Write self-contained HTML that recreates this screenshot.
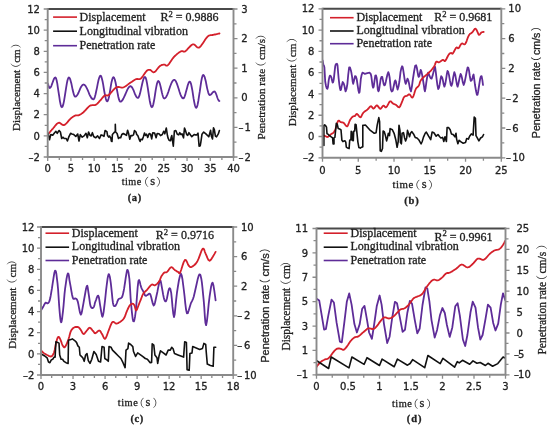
<!DOCTYPE html>
<html><head><meta charset="utf-8"><style>
html,body{margin:0;padding:0;background:#fff;width:550px;height:429px;overflow:hidden}
svg{display:block}
text{stroke:#222;stroke-width:0.3px}
</style></head><body>
<svg width="550" height="429" viewBox="0 0 550 429">
<rect width="550" height="429" fill="#fff"/>
<path d="M47.70 157.00V160.00M59.31 157.00V160.00M70.93 157.00V160.00M82.54 157.00V160.00M94.15 157.00V160.00M105.76 157.00V160.00M117.38 157.00V160.00M128.99 157.00V160.00M140.60 157.00V160.00M152.21 157.00V160.00M163.82 157.00V160.00M175.44 157.00V160.00M187.05 157.00V160.00M198.66 157.00V160.00M210.28 157.00V160.00M221.89 157.00V160.00M233.50 157.00V160.00M47.70 157.00H44.70M47.70 146.43H44.70M47.70 135.86H44.70M47.70 125.29H44.70M47.70 114.71H44.70M47.70 104.14H44.70M47.70 93.57H44.70M47.70 83.00H44.70M47.70 72.43H44.70M47.70 61.86H44.70M47.70 51.29H44.70M47.70 40.71H44.70M47.70 30.14H44.70M47.70 19.57H44.70M47.70 9.00H44.70M233.50 157.00H236.50M233.50 142.20H236.50M233.50 127.40H236.50M233.50 112.60H236.50M233.50 97.80H236.50M233.50 83.00H236.50M233.50 68.20H236.50M233.50 53.40H236.50M233.50 38.60H236.50M233.50 23.80H236.50M233.50 9.00H236.50M47.70 157.00V161.00M70.93 157.00V161.00M94.15 157.00V161.00M117.38 157.00V161.00M140.60 157.00V161.00M163.82 157.00V161.00M187.05 157.00V161.00M210.28 157.00V161.00M233.50 157.00V161.00M47.70 157.00H43.70M47.70 135.86H43.70M47.70 114.71H43.70M47.70 93.57H43.70M47.70 72.43H43.70M47.70 51.29H43.70M47.70 30.14H43.70M47.70 9.00H43.70M233.50 157.00H237.50M233.50 127.40H237.50M233.50 97.80H237.50M233.50 68.20H237.50M233.50 38.60H237.50M233.50 9.00H237.50" stroke="#8a8a8a" stroke-width="1.3" fill="none"/>
<clipPath id="ca"><rect x="47.7" y="9.0" width="185.8" height="148.0"/></clipPath>
<path d="M47.3 83.3 L47.5 83.4 L47.8 83.7 L48.0 84.3 L48.3 84.9 L48.5 85.6 L48.7 86.4 L49.0 87.0 L49.2 87.6 L49.5 87.9 L49.7 88.0 L50.3 87.7 L50.8 87.0 L51.4 85.8 L51.9 84.4 L52.5 82.8 L53.1 81.1 L53.6 79.7 L54.2 78.5 L54.7 77.8 L55.3 77.5 L56.0 78.2 L56.6 80.3 L57.3 83.6 L57.9 87.8 L58.6 92.3 L59.3 96.9 L59.9 101.1 L60.6 104.4 L61.2 106.5 L61.9 107.2 L62.6 106.5 L63.3 104.4 L64.0 101.1 L64.7 96.9 L65.4 92.4 L66.1 87.8 L66.8 83.6 L67.5 80.3 L68.2 78.2 L68.9 77.5 L69.5 78.0 L70.2 79.3 L70.8 81.5 L71.5 84.1 L72.1 87.1 L72.7 90.1 L73.4 92.7 L74.0 94.9 L74.7 96.2 L75.3 96.7 L76.1 96.4 L76.9 95.5 L77.8 94.2 L78.6 92.5 L79.4 90.6 L80.2 88.7 L81.0 87.0 L81.9 85.7 L82.7 84.8 L83.5 84.5 L84.5 84.9 L85.5 85.9 L86.5 87.6 L87.5 89.6 L88.5 92.0 L89.4 94.3 L90.4 96.3 L91.4 98.0 L92.4 99.0 L93.4 99.4 L94.1 98.8 L94.8 97.1 L95.5 94.5 L96.2 91.2 L97.0 87.6 L97.7 83.9 L98.4 80.6 L99.1 78.0 L99.8 76.3 L100.5 75.7 L101.2 76.3 L101.8 78.2 L102.5 81.0 L103.2 84.6 L103.8 88.5 L104.5 92.5 L105.2 96.1 L105.9 98.9 L106.5 100.8 L107.2 101.4 L107.8 100.8 L108.4 99.1 L109.1 96.4 L109.7 93.0 L110.3 89.3 L110.9 85.6 L111.5 82.2 L112.2 79.5 L112.8 77.8 L113.4 77.2 L114.1 77.8 L114.8 79.5 L115.5 82.2 L116.2 85.7 L116.9 89.5 L117.6 93.2 L118.3 96.7 L119.0 99.4 L119.7 101.1 L120.4 101.7 L121.4 101.3 L122.4 100.2 L123.4 98.5 L124.4 96.3 L125.5 94.0 L126.5 91.6 L127.5 89.4 L128.5 87.7 L129.5 86.6 L130.5 86.2 L131.2 86.5 L132.0 87.3 L132.7 88.6 L133.5 90.2 L134.2 92.0 L134.9 93.9 L135.7 95.5 L136.4 96.8 L137.2 97.6 L137.9 97.9 L138.6 97.4 L139.3 95.9 L140.0 93.6 L140.7 90.6 L141.4 87.4 L142.1 84.2 L142.8 81.2 L143.5 78.9 L144.2 77.4 L144.9 76.9 L145.6 77.6 L146.3 79.8 L147.0 83.1 L147.7 87.4 L148.4 92.0 L149.1 96.7 L149.8 101.0 L150.5 104.3 L151.2 106.5 L151.9 107.2 L152.5 106.6 L153.2 104.7 L153.8 101.8 L154.5 98.1 L155.1 94.1 L155.7 90.1 L156.4 86.4 L157.0 83.5 L157.7 81.6 L158.3 81.0 L158.9 81.4 L159.5 82.7 L160.1 84.6 L160.7 87.0 L161.3 89.8 L161.9 92.5 L162.5 94.9 L163.1 96.8 L163.7 98.1 L164.3 98.5 L165.3 98.0 L166.3 96.7 L167.3 94.6 L168.3 92.0 L169.2 89.2 L170.2 86.3 L171.2 83.7 L172.2 81.6 L173.2 80.3 L174.2 79.8 L175.1 80.3 L176.0 81.6 L176.9 83.6 L177.8 86.2 L178.7 89.1 L179.6 92.0 L180.5 94.6 L181.4 96.6 L182.3 97.9 L183.2 98.4 L183.9 98.0 L184.5 96.8 L185.2 94.9 L185.8 92.6 L186.5 90.0 L187.2 87.4 L187.8 85.1 L188.5 83.2 L189.1 82.0 L189.8 81.6 L190.4 82.2 L191.1 84.1 L191.7 87.0 L192.4 90.7 L193.0 94.7 L193.6 98.7 L194.3 102.4 L194.9 105.3 L195.6 107.2 L196.2 107.8 L196.9 107.0 L197.6 104.7 L198.3 101.0 L199.0 96.4 L199.8 91.4 L200.5 86.3 L201.2 81.7 L201.9 78.0 L202.6 75.7 L203.3 74.9 L203.9 75.4 L204.6 76.8 L205.2 79.0 L205.9 81.8 L206.5 85.0 L207.1 88.1 L207.8 90.9 L208.4 93.1 L209.1 94.5 L209.7 95.0 L210.2 94.9 L210.6 94.7 L211.1 94.3 L211.6 93.8 L212.1 93.2 L212.5 92.7 L213.0 92.2 L213.5 91.8 L213.9 91.6 L214.4 91.5 L214.9 91.7 L215.4 92.4 L215.9 93.5 L216.4 94.8 L216.9 96.2 L217.4 97.7 L217.9 99.0 L218.4 100.1 L218.9 100.8 L219.4 101.0" stroke="#5e2c98" stroke-width="1.8" fill="none" stroke-linejoin="round" stroke-linecap="round" clip-path="url(#ca)"/>
<path d="M48.2 134.0 L48.5 133.6 L49.0 133.1 L49.5 132.5 L50.1 131.8 L50.7 131.0 L51.4 130.3 L52.0 129.5 L52.7 128.8 L53.4 128.0 L54.1 127.2 L54.8 126.2 L55.5 125.3 L56.3 124.5 L57.0 123.7 L57.8 123.2 L58.5 122.8 L59.2 122.7 L59.9 123.0 L60.6 123.4 L61.3 123.9 L62.0 124.4 L62.7 124.9 L63.5 125.1 L64.2 125.0 L65.0 124.6 L65.8 123.9 L66.6 123.1 L67.5 122.1 L68.3 121.1 L69.1 120.2 L69.9 119.3 L70.6 118.6 L71.3 118.0 L71.9 117.6 L72.5 117.1 L73.0 116.7 L73.5 116.4 L74.1 116.1 L74.6 115.8 L75.1 115.6 L75.6 115.4 L76.1 115.4 L76.6 115.3 L77.0 115.3 L77.5 115.4 L78.0 115.3 L78.5 115.3 L79.0 115.1 L79.5 114.9 L80.0 114.6 L80.6 114.3 L81.1 114.0 L81.6 113.6 L82.2 113.2 L82.8 112.7 L83.5 112.2 L84.2 111.5 L85.0 110.7 L85.8 109.8 L86.6 108.9 L87.5 108.0 L88.3 107.1 L89.1 106.4 L89.9 105.8 L90.7 105.4 L91.4 105.3 L92.1 105.2 L92.9 105.2 L93.6 105.2 L94.3 105.2 L94.9 105.1 L95.6 104.9 L96.2 104.5 L96.8 104.1 L97.4 103.6 L97.9 103.0 L98.5 102.4 L99.0 101.8 L99.5 101.2 L100.1 100.6 L100.7 100.0 L101.3 99.3 L101.8 98.5 L102.4 97.8 L103.0 97.1 L103.6 96.5 L104.2 95.9 L104.7 95.5 L105.2 95.3 L105.7 95.2 L106.1 95.3 L106.5 95.4 L107.0 95.5 L107.5 95.5 L108.0 95.4 L108.7 95.0 L109.5 94.3 L110.4 93.4 L111.3 92.3 L112.3 91.2 L113.3 90.0 L114.4 88.9 L115.4 88.0 L116.3 87.4 L117.2 87.1 L118.1 87.0 L119.0 87.0 L119.8 87.2 L120.7 87.4 L121.6 87.6 L122.4 87.6 L123.3 87.4 L124.2 87.0 L125.1 86.5 L126.0 85.9 L126.9 85.3 L127.8 84.6 L128.6 83.9 L129.5 83.3 L130.3 82.7 L131.1 82.2 L131.9 81.7 L132.6 81.2 L133.3 80.7 L134.1 80.2 L134.8 79.8 L135.4 79.5 L136.1 79.2 L136.7 79.0 L137.3 79.0 L137.9 79.1 L138.4 79.2 L139.0 79.2 L139.6 79.2 L140.2 79.0 L140.8 78.6 L141.5 77.9 L142.2 77.0 L143.0 76.0 L143.8 74.8 L144.5 73.7 L145.3 72.6 L146.0 71.7 L146.6 71.0 L147.1 70.5 L147.6 70.2 L148.1 70.0 L148.5 69.8 L148.8 69.8 L149.2 69.8 L149.6 69.8 L150.1 69.9 L150.6 70.1 L151.0 70.4 L151.5 70.9 L152.0 71.4 L152.5 71.8 L153.0 72.1 L153.6 72.3 L154.2 72.2 L154.9 71.8 L155.6 71.1 L156.3 70.3 L157.1 69.3 L157.9 68.3 L158.6 67.4 L159.3 66.6 L160.0 66.0 L160.6 65.6 L161.2 65.3 L161.7 65.0 L162.2 64.9 L162.7 64.8 L163.2 64.7 L163.7 64.6 L164.2 64.6 L164.7 64.6 L165.1 64.8 L165.4 65.1 L165.8 65.4 L166.2 65.6 L166.6 65.7 L167.1 65.6 L167.7 65.3 L168.3 64.7 L169.1 63.8 L169.8 62.7 L170.6 61.5 L171.5 60.2 L172.3 59.0 L173.2 57.9 L174.0 56.9 L174.9 56.0 L175.8 55.2 L176.7 54.3 L177.6 53.6 L178.5 52.9 L179.4 52.2 L180.3 51.7 L181.0 51.3 L181.6 51.1 L182.2 51.1 L182.6 51.2 L183.1 51.4 L183.5 51.6 L184.0 51.7 L184.5 51.6 L185.2 51.3 L186.0 50.7 L186.9 49.8 L187.9 48.7 L188.9 47.6 L190.0 46.5 L191.0 45.5 L192.0 44.7 L192.9 44.3 L193.7 44.3 L194.5 44.7 L195.3 45.4 L196.0 46.1 L196.7 46.9 L197.5 47.5 L198.3 47.7 L199.2 47.5 L200.2 46.7 L201.2 45.6 L202.3 44.0 L203.4 42.4 L204.6 40.6 L205.6 39.0 L206.7 37.6 L207.6 36.6 L208.4 35.9 L209.2 35.5 L209.9 35.3 L210.5 35.2 L211.2 35.1 L211.8 35.1 L212.5 35.0 L213.2 34.9 L214.0 34.7 L214.9 34.5 L215.8 34.3 L216.7 34.1 L217.6 33.9 L218.4 33.7 L219.0 33.6 L219.5 33.5" stroke="#d4202b" stroke-width="1.8" fill="none" stroke-linejoin="round" stroke-linecap="round" clip-path="url(#ca)"/>
<path d="M48.2 133.3 L49.5 139.7 L50.8 134.6 L52.7 135.3 L54.6 132.7 L55.9 131.4 L57.2 133.3 L59.1 130.5 L60.4 132.0 L61.7 138.5 L63.0 137.2 L64.2 138.5 L66.2 138.5 L67.4 141.0 L68.7 137.2 L70.6 133.3 L71.9 134.0 L73.8 134.6 L75.8 136.5 L77.7 134.0 L79.0 141.0 L80.3 134.6 L82.2 137.2 L84.1 135.9 L86.0 133.3 L87.3 137.8 L88.6 132.0 L89.9 135.3 L91.2 135.9 L92.4 132.7 L93.7 136.5 L95.6 137.8 L97.6 135.9 L99.5 138.5 L101.1 134.9 L102.9 135.6 L104.0 136.4 L105.1 130.5 L106.9 131.6 L107.6 135.6 L108.7 137.1 L109.5 136.0 L110.9 138.2 L111.3 141.1 L112.0 141.5 L112.4 134.5 L114.2 132.4 L115.3 131.6 L115.3 124.4 L115.6 132.0 L117.1 133.5 L118.5 138.5 L119.6 137.5 L120.7 137.8 L121.8 134.5 L123.3 133.5 L125.1 134.5 L126.5 135.3 L127.6 130.2 L128.7 133.8 L129.8 139.3 L130.9 135.6 L132.4 135.6 L133.5 134.9 L134.5 130.5 L136.0 132.0 L136.7 134.5 L137.8 135.6 L139.4 140.0 L140.1 141.5 L140.8 139.3 L142.3 139.6 L143.4 136.7 L144.5 133.1 L145.5 135.3 L146.6 134.2 L147.7 137.5 L149.2 133.5 L150.6 134.2 L151.7 138.9 L152.8 132.7 L154.6 133.1 L156.1 137.8 L157.2 133.5 L159.0 133.8 L160.5 135.6 L162.3 134.5 L163.7 131.3 L164.8 133.8 L166.3 128.0 L167.4 135.3 L168.1 138.2 L169.2 140.4 L170.6 140.7 L171.1 137.5 L171.8 135.6 L173.3 146.2 L174.4 130.9 L175.8 130.5 L177.3 134.2 L178.7 134.9 L179.8 132.7 L180.9 134.5 L182.0 133.8 L183.5 137.8 L184.5 128.0 L185.6 130.9 L186.7 134.5 L187.8 135.3 L188.9 132.7 L190.7 135.3 L191.8 136.7 L192.9 135.6 L194.4 134.5 L195.5 134.9 L196.9 134.9 L198.0 133.1 L199.1 146.2 L200.2 145.8 L200.9 141.8 L202.0 134.2 L203.7 132.1 L205.9 133.9 L208.8 136.8 L210.6 130.3 L211.4 136.1 L212.5 139.0 L213.5 127.7 L214.3 129.5 L215.4 136.1 L216.5 136.8 L218.3 133.9 L219.4 130.6" stroke="#111111" stroke-width="1.6" fill="none" stroke-linejoin="round" stroke-linecap="round" clip-path="url(#ca)"/>
<path d="M47.70 9.00H233.50" stroke="#4a4a4a" stroke-width="1.9" fill="none"/>
<path d="M47.70 8.00V157.90M46.70 157.00H234.50M233.50 8.00V157.90" stroke="#8a8a8a" stroke-width="1.9" fill="none"/>
<g font-family="DejaVu Sans, sans-serif" font-size="10" fill="#222222"><text x="39.90" y="160.65" text-anchor="end">–2</text><text x="39.90" y="139.51" text-anchor="end">0</text><text x="39.90" y="118.36" text-anchor="end">2</text><text x="39.90" y="97.22" text-anchor="end">4</text><text x="39.90" y="76.08" text-anchor="end">6</text><text x="39.90" y="54.94" text-anchor="end">8</text><text x="39.90" y="33.79" text-anchor="end">10</text><text x="39.90" y="12.65" text-anchor="end">12</text><text x="238.50" y="160.65">–</text><text x="244.60" y="160.65">2</text><text x="238.50" y="131.05">–</text><text x="244.60" y="131.05">1</text><text x="241.30" y="101.45">0</text><text x="241.30" y="71.85">1</text><text x="241.30" y="42.25">2</text><text x="241.30" y="12.65">3</text><text x="47.70" y="172.00" text-anchor="middle">0</text><text x="70.93" y="172.00" text-anchor="middle">5</text><text x="94.15" y="172.00" text-anchor="middle">10</text><text x="117.38" y="172.00" text-anchor="middle">15</text><text x="140.60" y="172.00" text-anchor="middle">20</text><text x="163.82" y="172.00" text-anchor="middle">25</text><text x="187.05" y="172.00" text-anchor="middle">30</text><text x="210.28" y="172.00" text-anchor="middle">35</text><text x="233.50" y="172.00" text-anchor="middle">40</text></g>
<path d="M53.1 17.10H77" stroke="#d4202b" stroke-width="1.6"/>
<text x="79.6" y="20.70" font-family="Liberation Serif, serif" font-size="12" fill="#222222">Displacement</text>
<path d="M53.1 31.20H77" stroke="#111111" stroke-width="1.6"/>
<text x="79.6" y="34.50" font-family="Liberation Serif, serif" font-size="12" fill="#222222">Longitudinal vibration</text>
<path d="M53.1 45.70H77" stroke="#5e2c98" stroke-width="1.6"/>
<text x="79.6" y="49.00" font-family="Liberation Serif, serif" font-size="12" fill="#222222">Penetration rate</text>
<text x="160.4" y="21.4" font-family="Liberation Serif, serif" font-size="12" fill="#222222">R<tspan dy="-4.6" font-size="8.6">2</tspan><tspan dy="4.6"> = 0.9886</tspan></text>
<text transform="translate(20.00 130.90) rotate(-90)" y="0" fill="#222222"><tspan x="0.00" font-family="Liberation Serif, serif" font-size="11.1">Displacement</tspan><tspan x="56.91" font-family="Noto Serif CJK SC, serif" font-size="11.1" stroke="none">（</tspan><tspan x="68.10" font-family="Liberation Serif, serif" font-size="11.1">cm</tspan><tspan x="82.30" font-family="Noto Serif CJK SC, serif" font-size="11.1" stroke="none">）</tspan></text>
<text transform="translate(264.70 139.60) rotate(-90)" y="0" fill="#222222"><tspan x="0.00" font-family="Liberation Serif, serif" font-size="11.23">Penetration rate</tspan><tspan x="66.93" font-family="Noto Serif CJK SC, serif" font-size="11.23" stroke="none">（</tspan><tspan x="79.60" font-family="Liberation Serif, serif" font-size="11.23">cm/s</tspan><tspan x="99.87" font-family="Noto Serif CJK SC, serif" font-size="11.23" stroke="none">）</tspan></text>
<text y="185.3" fill="#222222"><tspan x="121.7" font-family="Liberation Serif, serif" font-size="10.2" letter-spacing="0.5">time</tspan><tspan x="138.07" dy="0.8" font-family="Noto Serif CJK SC, serif" font-size="11" stroke="none">（</tspan><tspan x="150.20" dy="-0.8" font-family="Liberation Serif, serif" font-size="12.5">s</tspan><tspan x="156.01" dy="0.8" font-family="Noto Serif CJK SC, serif" font-size="11" stroke="none">）</tspan></text>
<text x="134.8" y="201.2" text-anchor="middle" font-family="Liberation Serif, serif" font-weight="bold" font-size="10.5" letter-spacing="0.6" fill="#222222">(a)</text>
<path d="M322.50 157.80V160.80M340.38 157.80V160.80M358.26 157.80V160.80M376.14 157.80V160.80M394.02 157.80V160.80M411.90 157.80V160.80M429.78 157.80V160.80M447.66 157.80V160.80M465.54 157.80V160.80M483.42 157.80V160.80M501.30 157.80V160.80M322.50 157.80H319.50M322.50 147.16H319.50M322.50 136.51H319.50M322.50 125.87H319.50M322.50 115.23H319.50M322.50 104.59H319.50M322.50 93.94H319.50M322.50 83.30H319.50M322.50 72.66H319.50M322.50 62.01H319.50M322.50 51.37H319.50M322.50 40.73H319.50M322.50 30.09H319.50M322.50 19.44H319.50M322.50 8.80H319.50M501.30 157.80H504.30M501.30 142.90H504.30M501.30 128.00H504.30M501.30 113.10H504.30M501.30 98.20H504.30M501.30 83.30H504.30M501.30 68.40H504.30M501.30 53.50H504.30M501.30 38.60H504.30M501.30 23.70H504.30M501.30 8.80H504.30M322.50 157.80V161.80M358.26 157.80V161.80M394.02 157.80V161.80M429.78 157.80V161.80M465.54 157.80V161.80M501.30 157.80V161.80M322.50 157.80H318.50M322.50 136.51H318.50M322.50 115.23H318.50M322.50 93.94H318.50M322.50 72.66H318.50M322.50 51.37H318.50M322.50 30.09H318.50M322.50 8.80H318.50M501.30 157.80H505.30M501.30 128.00H505.30M501.30 98.20H505.30M501.30 68.40H505.30M501.30 38.60H505.30M501.30 8.80H505.30" stroke="#8a8a8a" stroke-width="1.3" fill="none"/>
<clipPath id="cb"><rect x="322.5" y="8.8" width="178.8" height="149.0"/></clipPath>
<path d="M322.6 60.5 L323.0 62.7 L323.5 65.2 L324.0 65.8 L324.4 67.5 L324.8 74.2 L325.2 81.5 L326.0 86.0 L326.8 88.5 L327.4 88.8 L327.9 87.3 L328.3 84.0 L328.7 80.3 L329.3 77.4 L329.9 75.6 L330.6 75.9 L331.4 77.4 L332.0 80.3 L332.6 82.6 L333.2 82.0 L333.8 79.1 L334.5 72.6 L335.2 66.3 L335.8 64.3 L336.3 64.0 L336.9 63.7 L337.5 65.2 L338.0 71.0 L338.6 78.0 L339.3 84.0 L340.0 88.5 L340.5 90.2 L341.0 89.6 L341.8 85.6 L342.7 82.0 L343.6 83.2 L344.5 86.1 L345.1 89.5 L345.6 91.4 L346.5 89.0 L347.4 83.8 L348.2 75.0 L349.1 67.5 L350.0 67.5 L350.9 70.4 L351.5 73.3 L352.1 76.8 L352.6 81.2 L353.2 83.8 L354.1 80.3 L355.0 76.2 L355.8 76.4 L356.7 79.1 L357.6 85.1 L358.5 90.8 L359.1 92.9 L359.6 92.0 L360.2 86.0 L360.8 79.1 L361.6 75.0 L362.5 72.7 L363.5 73.0 L364.9 73.9 L367.3 73.1 L369.7 72.7 L370.8 74.1 L371.4 76.8 L372.0 81.7 L372.6 86.1 L373.1 87.7 L373.7 86.7 L374.5 81.0 L375.3 75.6 L376.0 75.4 L376.7 78.0 L377.3 83.9 L377.8 89.6 L378.4 91.3 L379.0 90.2 L379.8 84.8 L380.7 79.1 L381.5 76.8 L382.2 76.8 L382.9 80.1 L383.6 83.8 L384.3 85.3 L385.0 85.0 L385.8 81.9 L386.6 78.0 L387.5 74.2 L388.3 72.1 L389.0 74.0 L389.7 78.0 L390.3 84.1 L390.9 89.6 L391.7 91.5 L392.7 90.8 L393.7 86.2 L394.7 81.5 L395.3 80.4 L395.9 81.5 L396.7 86.1 L397.6 89.6 L398.5 86.6 L399.4 81.5 L400.0 76.7 L400.5 72.1 L401.3 68.4 L402.1 66.3 L402.7 67.1 L403.2 69.8 L403.9 74.4 L404.6 79.1 L405.2 82.4 L405.8 83.8 L406.6 81.2 L407.5 78.6 L408.3 80.4 L409.1 83.8 L410.0 88.7 L411.0 91.4 L411.9 86.6 L412.9 79.1 L414.1 71.5 L415.2 65.7 L416.1 65.3 L416.8 67.5 L417.5 71.6 L418.2 75.6 L418.7 76.8 L419.3 76.2 L420.0 72.7 L420.7 69.8 L421.4 71.4 L422.2 75.1 L423.0 80.0 L423.8 85.0 L424.4 89.4 L424.9 91.4 L425.6 88.0 L426.3 82.6 L427.2 76.9 L428.1 72.7 L428.8 73.7 L429.6 76.2 L430.6 78.1 L431.6 78.6 L432.8 74.9 L433.9 70.4 L434.5 67.4 L435.1 66.9 L435.8 72.2 L436.6 79.1 L437.4 85.1 L438.2 89.0 L439.0 87.8 L439.7 84.4 L440.4 79.8 L441.2 76.2 L442.1 77.3 L442.9 80.3 L443.6 84.2 L444.4 86.7 L445.3 83.8 L446.1 79.1 L446.8 74.3 L447.5 71.0 L448.2 71.9 L449.0 75.1 L449.9 80.4 L450.8 85.0 L451.5 85.8 L452.2 83.8 L453.2 77.4 L454.3 72.1 L455.3 75.1 L456.2 80.3 L456.9 84.4 L457.6 86.7 L458.3 84.3 L459.1 80.3 L459.9 76.4 L460.6 73.9 L461.3 75.1 L462.0 78.0 L462.8 82.3 L463.7 85.0 L464.7 81.9 L465.7 76.8 L466.7 71.5 L467.6 67.5 L468.3 67.7 L469.0 70.4 L469.8 76.0 L470.7 80.9 L471.6 80.3 L472.5 78.0 L473.1 75.4 L473.6 74.5 L474.2 78.9 L475.0 85.0 L476.0 90.8 L476.9 94.9 L477.5 94.9 L478.1 92.0 L479.1 85.5 L480.1 79.1 L480.9 76.3 L481.6 76.2 L482.4 80.4 L483.0 85.0" stroke="#5e2c98" stroke-width="1.8" fill="none" stroke-linejoin="round" stroke-linecap="round" clip-path="url(#cb)"/>
<path d="M323.5 135.5 L323.9 135.6 L324.4 135.8 L325.0 136.0 L325.6 136.2 L326.1 136.5 L326.6 136.8 L327.1 137.0 L327.7 136.9 L328.5 136.4 L329.4 135.7 L330.3 134.8 L331.2 134.1 L332.0 133.6 L332.7 133.2 L333.4 132.7 L334.0 132.0 L334.6 131.0 L335.1 129.8 L335.6 128.5 L336.1 127.1 L336.6 125.4 L337.1 123.6 L337.6 121.9 L338.2 120.8 L338.8 120.6 L339.5 121.1 L340.2 121.7 L340.9 122.2 L341.6 122.4 L342.2 122.4 L342.9 122.5 L343.7 122.9 L344.5 123.8 L345.4 125.1 L346.4 126.1 L347.2 126.4 L347.9 125.4 L348.6 123.7 L349.3 121.7 L350.0 120.1 L350.7 119.0 L351.4 118.0 L352.1 117.2 L352.8 116.6 L353.4 116.3 L353.9 116.2 L354.4 116.2 L354.9 116.0 L355.4 115.5 L355.9 114.7 L356.4 114.1 L357.0 113.9 L357.8 114.6 L358.7 115.8 L359.6 116.9 L360.5 117.3 L361.2 116.7 L361.8 115.4 L362.5 113.9 L363.3 112.7 L364.3 111.8 L365.4 111.0 L366.6 110.2 L367.6 109.4 L368.5 108.5 L369.4 107.4 L370.1 106.6 L370.9 106.2 L371.6 106.5 L372.2 107.4 L372.9 108.3 L373.6 108.6 L374.4 108.0 L375.2 106.9 L376.1 105.8 L376.9 105.3 L377.7 105.9 L378.6 107.1 L379.4 108.3 L380.2 108.9 L381.0 108.4 L381.8 107.4 L382.6 106.2 L383.4 105.6 L384.1 105.9 L384.8 106.6 L385.4 107.3 L386.2 107.3 L387.1 106.2 L388.1 104.3 L389.1 102.4 L390.0 101.3 L390.7 101.3 L391.4 101.9 L392.0 102.7 L392.7 103.4 L393.5 103.8 L394.3 104.1 L395.2 104.5 L396.0 104.9 L396.8 105.6 L397.7 106.5 L398.5 107.2 L399.3 107.3 L400.0 106.5 L400.7 105.0 L401.4 103.3 L402.0 101.8 L402.6 100.4 L403.1 99.1 L403.6 97.8 L404.2 96.9 L404.8 96.4 L405.5 96.1 L406.2 96.0 L406.9 95.8 L407.6 95.4 L408.2 94.8 L408.9 94.4 L409.6 94.4 L410.3 95.1 L411.1 96.4 L411.8 97.4 L412.6 97.5 L413.4 96.1 L414.2 93.7 L415.0 91.0 L415.8 89.0 L416.6 87.8 L417.5 87.0 L418.2 86.3 L418.9 85.5 L419.4 84.4 L419.7 83.2 L420.0 82.0 L420.5 80.9 L421.1 79.9 L421.8 79.1 L422.6 78.2 L423.4 77.4 L424.3 76.5 L425.4 75.7 L426.4 74.8 L427.5 73.9 L428.6 72.9 L429.6 71.9 L430.7 70.8 L431.6 69.8 L432.4 68.8 L433.2 67.7 L433.9 66.7 L434.5 65.7 L435.0 64.6 L435.4 63.4 L435.7 62.4 L436.2 61.7 L436.8 61.6 L437.5 61.9 L438.3 62.3 L439.1 62.3 L440.0 61.8 L441.0 61.1 L442.0 60.3 L442.9 59.9 L443.6 60.1 L444.1 60.7 L444.6 61.2 L445.2 61.0 L446.0 59.8 L446.9 58.0 L447.9 56.0 L448.7 54.6 L449.4 53.8 L450.0 53.3 L450.6 53.1 L451.1 52.9 L451.5 53.0 L451.9 53.5 L452.3 53.8 L452.8 53.5 L453.6 52.3 L454.5 50.5 L455.5 48.8 L456.3 47.6 L456.9 47.4 L457.5 47.8 L458.0 48.3 L458.6 48.2 L459.3 47.3 L460.0 45.9 L460.8 44.5 L461.6 43.6 L462.5 43.5 L463.4 44.0 L464.3 44.4 L465.1 44.1 L465.9 42.8 L466.7 40.8 L467.4 38.7 L468.0 37.1 L468.5 36.1 L468.9 35.3 L469.3 34.7 L469.7 34.2 L470.2 33.7 L470.8 33.4 L471.4 33.0 L472.1 32.5 L472.8 31.6 L473.6 30.5 L474.3 29.4 L475.0 28.8 L475.5 28.7 L475.9 29.0 L476.3 29.5 L476.7 30.2 L477.2 31.3 L477.8 32.7 L478.4 34.1 L479.0 34.8 L479.6 34.7 L480.2 34.0 L480.8 33.1 L481.4 32.5 L482.0 32.2 L482.7 32.1 L483.3 32.0 L483.7 31.9" stroke="#d4202b" stroke-width="1.8" fill="none" stroke-linejoin="round" stroke-linecap="round" clip-path="url(#cb)"/>
<path d="M323.9 145.5 L323.9 125.3 L324.6 124.8 L325.6 125.7 L326.5 127.1 L327.0 133.7 L327.5 133.7 L328.9 135.1 L331.2 136.9 L332.6 137.9 L333.1 143.9 L334.0 143.9 L334.0 137.9 L334.9 137.4 L336.3 123.4 L337.3 124.3 L338.2 128.5 L339.6 129.0 L341.0 129.9 L341.9 140.2 L342.9 141.6 L344.9 140.7 L345.8 142.1 L346.3 147.2 L347.7 148.1 L349.1 148.6 L349.7 140.2 L350.9 139.7 L351.2 131.3 L351.9 131.8 L352.3 140.2 L353.3 140.7 L353.7 131.3 L354.7 130.9 L355.1 124.3 L356.1 124.8 L357.0 133.7 L357.9 142.1 L358.9 147.6 L360.3 148.1 L361.7 147.2 L362.8 146.7 L362.8 125.3 L364.0 125.3 L365.4 125.0 L369.7 129.8 L374.3 133.3 L376.1 132.7 L377.2 125.2 L378.8 117.6 L379.6 121.7 L380.2 150.8 L381.3 151.4 L382.5 148.5 L383.1 131.0 L384.2 131.6 L385.4 135.6 L386.6 140.9 L387.4 138.0 L388.3 133.3 L389.5 135.6 L390.1 128.6 L392.4 129.8 L394.1 133.3 L395.9 140.3 L397.1 147.3 L398.2 141.5 L399.0 125.2 L400.0 131.0 L400.5 142.6 L401.4 143.8 L402.1 133.3 L403.5 132.7 L404.6 138.0 L405.6 140.9 L406.7 138.0 L407.5 130.4 L408.7 133.9 L409.5 136.8 L410.5 133.3 L411.7 131.6 L413.5 133.9 L415.2 137.4 L417.0 138.0 L418.7 139.7 L421.1 143.8 L422.2 141.5 L423.4 137.4 L425.2 133.3 L426.3 132.1 L428.6 136.2 L430.7 139.7 L432.1 132.1 L433.9 132.7 L436.2 136.2 L438.0 134.5 L439.7 136.8 L440.9 138.0 L442.6 137.4 L443.8 141.5 L445.0 136.8 L446.4 141.5 L447.1 127.5 L448.5 127.5 L450.2 129.8 L451.4 133.9 L453.1 134.5 L454.9 136.8 L456.0 133.3 L456.6 139.1 L457.9 143.8 L459.1 140.3 L461.4 142.1 L463.2 143.2 L465.5 142.6 L466.7 138.6 L468.4 139.1 L469.6 136.2 L471.3 133.9 L473.1 135.1 L474.2 117.0 L475.4 118.2 L476.0 135.6 L477.7 138.6 L478.9 140.9 L480.6 138.0 L482.4 136.8 L483.6 134.5" stroke="#111111" stroke-width="1.6" fill="none" stroke-linejoin="round" stroke-linecap="round" clip-path="url(#cb)"/>
<path d="M322.50 8.80H501.30" stroke="#4a4a4a" stroke-width="1.9" fill="none"/>
<path d="M322.50 7.80V158.70M321.50 157.80H502.30M501.30 7.80V158.70" stroke="#8a8a8a" stroke-width="1.9" fill="none"/>
<g font-family="DejaVu Sans, sans-serif" font-size="10" fill="#222222"><text x="314.40" y="161.45" text-anchor="end">–2</text><text x="314.40" y="140.16" text-anchor="end">0</text><text x="314.40" y="118.88" text-anchor="end">2</text><text x="314.40" y="97.59" text-anchor="end">4</text><text x="314.40" y="76.31" text-anchor="end">6</text><text x="314.40" y="55.02" text-anchor="end">8</text><text x="314.40" y="33.74" text-anchor="end">10</text><text x="314.40" y="12.45" text-anchor="end">12</text><text x="506.00" y="161.45">–</text><text x="512.20" y="161.45">10</text><text x="506.00" y="131.65">–</text><text x="512.20" y="131.65">6</text><text x="506.00" y="101.85">–</text><text x="512.20" y="101.85">2</text><text x="508.30" y="72.05">2</text><text x="508.30" y="42.25">6</text><text x="508.30" y="12.45">10</text><text x="322.50" y="174.00" text-anchor="middle">0</text><text x="358.26" y="174.00" text-anchor="middle">5</text><text x="394.02" y="174.00" text-anchor="middle">10</text><text x="429.78" y="174.00" text-anchor="middle">15</text><text x="465.54" y="174.00" text-anchor="middle">20</text><text x="501.30" y="174.00" text-anchor="middle">25</text></g>
<path d="M330 17.70H353.6" stroke="#d4202b" stroke-width="1.6"/>
<text x="356.4" y="21.00" font-family="Liberation Serif, serif" font-size="12" fill="#222222">Displacement</text>
<path d="M330 31.00H353.6" stroke="#111111" stroke-width="1.6"/>
<text x="356.4" y="34.10" font-family="Liberation Serif, serif" font-size="12" fill="#222222">Longitudinal vibration</text>
<path d="M330 43.70H353.6" stroke="#5e2c98" stroke-width="1.6"/>
<text x="356.4" y="46.80" font-family="Liberation Serif, serif" font-size="12" fill="#222222">Penetration rate</text>
<text x="434.2" y="21.4" font-family="Liberation Serif, serif" font-size="12" fill="#222222">R<tspan dy="-4.6" font-size="8.6">2</tspan><tspan dy="4.6"> = 0.9681</tspan></text>
<text transform="translate(295.70 126.20) rotate(-90)" y="0" fill="#222222"><tspan x="0.00" font-family="Liberation Serif, serif" font-size="11.2">Displacement</tspan><tspan x="57.34" font-family="Noto Serif CJK SC, serif" font-size="11.2" stroke="none">（</tspan><tspan x="69.00" font-family="Liberation Serif, serif" font-size="11.2">cm</tspan><tspan x="83.28" font-family="Noto Serif CJK SC, serif" font-size="11.2" stroke="none">）</tspan></text>
<text transform="translate(539.50 138.20) rotate(-90)" y="0" fill="#222222"><tspan x="0.00" font-family="Liberation Sans, sans-serif" font-size="10.7">Penetration rate</tspan><tspan x="70.70" font-family="Noto Sans CJK SC, sans-serif" font-size="10.7" stroke="none">（</tspan><tspan x="83.10" font-family="Liberation Sans, sans-serif" font-size="10.7">cm/s</tspan><tspan x="107.01" font-family="Noto Sans CJK SC, sans-serif" font-size="10.7" stroke="none">）</tspan></text>
<text y="187.8" fill="#222222"><tspan x="392.5" font-family="Liberation Serif, serif" font-size="10.8" letter-spacing="0.5">time</tspan><tspan x="409.37" dy="0.8" font-family="Noto Serif CJK SC, serif" font-size="11" stroke="none">（</tspan><tspan x="421.70" dy="-0.8" font-family="Liberation Serif, serif" font-size="12.5">s</tspan><tspan x="428.01" dy="0.8" font-family="Noto Serif CJK SC, serif" font-size="11" stroke="none">）</tspan></text>
<text x="411.9" y="204.4" text-anchor="middle" font-family="Liberation Serif, serif" font-weight="bold" font-size="10.5" letter-spacing="0.9" fill="#222222">(b)</text>
<path d="M41.00 375.00V378.00M51.68 375.00V378.00M62.36 375.00V378.00M73.03 375.00V378.00M83.71 375.00V378.00M94.39 375.00V378.00M105.07 375.00V378.00M115.74 375.00V378.00M126.42 375.00V378.00M137.10 375.00V378.00M147.78 375.00V378.00M158.46 375.00V378.00M169.13 375.00V378.00M179.81 375.00V378.00M190.49 375.00V378.00M201.17 375.00V378.00M211.84 375.00V378.00M222.52 375.00V378.00M233.20 375.00V378.00M41.00 375.00H38.00M41.00 364.43H38.00M41.00 353.86H38.00M41.00 343.29H38.00M41.00 332.71H38.00M41.00 322.14H38.00M41.00 311.57H38.00M41.00 301.00H38.00M41.00 290.43H38.00M41.00 279.86H38.00M41.00 269.29H38.00M41.00 258.71H38.00M41.00 248.14H38.00M41.00 237.57H38.00M41.00 227.00H38.00M233.20 375.00H236.20M233.20 360.20H236.20M233.20 345.40H236.20M233.20 330.60H236.20M233.20 315.80H236.20M233.20 301.00H236.20M233.20 286.20H236.20M233.20 271.40H236.20M233.20 256.60H236.20M233.20 241.80H236.20M233.20 227.00H236.20M41.00 375.00V379.00M73.03 375.00V379.00M105.07 375.00V379.00M137.10 375.00V379.00M169.13 375.00V379.00M201.17 375.00V379.00M233.20 375.00V379.00M41.00 375.00H37.00M41.00 353.86H37.00M41.00 332.71H37.00M41.00 311.57H37.00M41.00 290.43H37.00M41.00 269.29H37.00M41.00 248.14H37.00M41.00 227.00H37.00M233.20 375.00H237.20M233.20 345.40H237.20M233.20 315.80H237.20M233.20 286.20H237.20M233.20 256.60H237.20M233.20 227.00H237.20" stroke="#8a8a8a" stroke-width="1.3" fill="none"/>
<clipPath id="cc"><rect x="41.0" y="227.0" width="192.2" height="148.0"/></clipPath>
<path d="M41.4 309.7 L41.8 309.1 L42.3 308.2 L42.9 307.2 L43.5 306.2 L44.0 305.2 L44.5 304.2 L45.1 303.3 L45.6 302.7 L46.1 302.7 L46.7 303.0 L47.2 303.4 L47.7 303.4 L48.2 303.0 L48.8 302.4 L49.3 301.4 L49.8 299.9 L50.3 297.8 L50.8 295.2 L51.3 292.2 L51.9 288.7 L52.6 283.9 L53.5 278.2 L54.3 273.1 L55.1 270.6 L55.8 271.2 L56.4 274.0 L56.9 278.3 L57.5 283.2 L58.1 289.5 L58.6 297.2 L59.1 304.9 L59.6 311.1 L60.0 315.6 L60.4 319.1 L60.8 321.5 L61.2 322.3 L61.6 321.3 L62.1 318.8 L62.5 315.2 L63.0 311.1 L63.5 306.1 L64.0 300.2 L64.5 294.1 L65.1 288.7 L65.8 283.8 L66.5 279.0 L67.2 275.3 L67.9 273.4 L68.5 274.0 L69.0 276.4 L69.4 279.8 L70.0 283.2 L70.7 286.8 L71.4 291.1 L72.1 295.0 L72.8 297.8 L73.5 298.9 L74.2 298.9 L74.9 298.5 L75.6 298.5 L76.2 298.8 L76.6 299.1 L77.1 299.8 L77.7 301.3 L78.4 304.4 L79.2 308.8 L80.0 312.7 L80.8 314.6 L81.4 313.8 L82.0 311.3 L82.6 307.8 L83.3 304.1 L84.1 299.5 L85.1 294.0 L86.0 288.9 L86.8 286.0 L87.3 285.8 L87.7 287.5 L88.1 290.1 L88.5 292.9 L89.0 296.1 L89.5 299.9 L90.0 303.6 L90.6 306.2 L91.3 307.6 L92.0 308.1 L92.7 308.1 L93.4 307.6 L94.0 306.6 L94.5 304.9 L94.9 303.0 L95.5 301.3 L96.2 299.5 L96.9 297.4 L97.6 295.9 L98.3 295.7 L98.9 297.4 L99.4 300.3 L99.9 303.8 L100.4 306.9 L100.9 310.0 L101.5 313.3 L102.0 315.9 L102.5 316.7 L103.0 315.3 L103.6 312.1 L104.1 308.2 L104.6 304.1 L105.1 299.8 L105.6 295.0 L106.1 290.2 L106.6 286.0 L107.1 282.1 L107.6 278.4 L108.2 275.5 L108.7 274.1 L109.2 274.7 L109.8 276.7 L110.3 279.7 L110.8 283.2 L111.3 287.7 L111.9 293.3 L112.4 298.7 L112.9 302.7 L113.4 304.8 L113.8 305.8 L114.2 306.1 L114.6 306.2 L115.0 306.1 L115.5 305.7 L115.9 305.0 L116.4 304.1 L116.9 303.0 L117.3 301.7 L117.9 300.3 L118.5 299.2 L119.3 298.6 L120.3 298.4 L121.2 298.0 L122.0 297.1 L122.6 295.6 L123.1 293.6 L123.6 291.3 L124.1 288.7 L124.6 285.4 L125.2 281.5 L125.7 277.8 L126.2 274.8 L126.6 272.6 L126.9 270.9 L127.2 269.9 L127.6 269.9 L128.0 270.8 L128.5 272.6 L128.9 275.3 L129.4 279.0 L129.8 284.3 L130.2 291.1 L130.6 298.0 L131.1 304.1 L131.6 309.5 L132.2 314.8 L132.7 318.9 L133.3 321.2 L133.9 321.4 L134.4 319.9 L135.0 316.9 L135.6 312.5 L136.3 305.4 L137.0 295.9 L137.7 286.8 L138.4 281.1 L139.1 280.0 L139.8 281.9 L140.5 284.9 L141.2 287.3 L141.9 288.8 L142.7 290.3 L143.4 291.7 L144.0 292.9 L144.4 293.9 L144.7 294.7 L145.0 295.3 L145.4 295.7 L145.9 295.8 L146.4 295.6 L146.9 295.3 L147.5 295.0 L148.1 294.5 L148.8 293.9 L149.5 293.6 L150.3 294.3 L151.1 296.8 L152.0 300.5 L152.9 303.9 L153.7 305.5 L154.4 304.7 L155.1 302.3 L155.8 299.0 L156.5 295.7 L157.4 291.7 L158.3 286.9 L159.2 282.7 L160.0 280.4 L160.6 280.8 L161.1 282.9 L161.6 285.9 L162.1 288.7 L162.6 291.4 L163.1 294.4 L163.7 297.2 L164.2 299.2 L164.7 300.5 L165.2 301.3 L165.7 301.4 L166.3 300.6 L167.0 298.2 L167.7 294.5 L168.4 290.9 L169.1 288.7 L169.7 288.2 L170.2 288.6 L170.6 290.1 L171.2 292.9 L171.8 298.7 L172.5 306.7 L173.3 313.9 L174.0 317.0 L174.7 314.2 L175.4 307.4 L176.2 299.4 L177.0 292.5 L177.9 286.6 L178.9 280.5 L180.0 275.8 L180.9 273.7 L181.7 275.3 L182.5 279.5 L183.2 285.0 L183.9 290.5 L184.6 296.5 L185.3 303.6 L186.1 309.8 L186.9 313.3 L187.8 313.1 L188.8 310.2 L189.9 306.4 L190.8 303.4 L191.6 301.8 L192.2 300.6 L192.9 299.1 L193.8 296.5 L194.9 291.7 L196.3 285.5 L197.6 279.6 L198.7 275.7 L199.5 274.3 L200.2 274.5 L200.7 276.1 L201.3 278.7 L201.9 282.7 L202.5 288.2 L203.1 294.3 L203.7 300.4 L204.3 307.6 L204.8 315.9 L205.4 322.7 L206.1 325.2 L206.9 321.4 L207.8 313.3 L208.7 303.9 L209.6 296.5 L210.4 291.2 L211.1 286.6 L211.9 283.5 L212.6 282.6 L213.4 285.2 L214.3 290.6 L215.1 296.5 L215.6 300.4" stroke="#5e2c98" stroke-width="1.8" fill="none" stroke-linejoin="round" stroke-linecap="round" clip-path="url(#cc)"/>
<path d="M40.8 350.1 L41.3 350.6 L42.0 351.4 L42.8 352.2 L43.6 352.9 L44.4 353.5 L45.3 354.0 L46.2 354.5 L47.1 355.0 L48.1 355.5 L49.2 356.1 L50.3 356.5 L51.3 356.4 L52.1 355.9 L52.8 355.0 L53.5 353.8 L54.1 352.2 L54.7 350.0 L55.2 347.4 L55.7 344.7 L56.2 342.4 L56.7 340.5 L57.2 338.8 L57.8 337.5 L58.3 336.8 L58.8 336.8 L59.3 337.5 L59.9 338.5 L60.4 339.6 L60.9 340.9 L61.5 342.4 L62.0 344.0 L62.5 345.2 L63.0 346.1 L63.5 346.8 L64.1 347.3 L64.6 347.3 L65.1 346.9 L65.6 346.0 L66.2 345.0 L66.7 343.8 L67.2 342.6 L67.8 341.2 L68.3 339.7 L68.8 338.2 L69.3 336.5 L69.8 334.6 L70.3 332.7 L70.9 331.2 L71.5 330.0 L72.2 329.1 L72.9 328.3 L73.7 327.7 L74.7 327.2 L75.8 327.0 L76.9 326.9 L77.9 327.0 L78.7 327.4 L79.4 328.1 L80.0 328.9 L80.7 329.8 L81.4 330.9 L82.1 332.3 L82.8 333.4 L83.5 334.0 L84.2 333.8 L84.9 333.1 L85.6 332.1 L86.3 331.2 L87.1 330.2 L88.0 329.1 L88.8 328.1 L89.7 327.7 L90.6 328.1 L91.5 329.1 L92.4 330.3 L93.2 331.2 L93.8 331.9 L94.2 332.6 L94.7 333.2 L95.3 333.3 L96.2 332.8 L97.2 331.8 L98.3 330.9 L99.2 330.5 L100.0 330.9 L100.7 331.8 L101.3 332.9 L102.0 334.0 L102.7 335.3 L103.4 336.9 L104.1 338.2 L104.8 338.9 L105.4 338.7 L105.8 337.9 L106.3 336.8 L106.9 335.4 L107.5 333.7 L108.2 331.7 L109.0 329.6 L109.7 327.7 L110.4 325.9 L111.2 324.2 L111.9 322.7 L112.7 321.8 L113.5 321.8 L114.4 322.4 L115.3 323.2 L116.2 323.6 L117.1 323.5 L118.1 323.2 L119.0 322.6 L120.0 322.0 L121.0 321.3 L122.1 320.4 L123.2 319.3 L124.1 318.1 L124.9 316.5 L125.6 314.7 L126.2 312.8 L126.9 311.1 L127.6 309.5 L128.3 308.0 L129.0 306.6 L129.7 305.5 L130.4 304.7 L131.1 304.1 L131.9 303.8 L132.5 303.7 L133.1 303.8 L133.6 304.2 L134.0 304.7 L134.5 305.5 L134.9 306.8 L135.3 308.6 L135.7 310.0 L136.3 310.4 L137.1 309.2 L137.9 307.0 L138.9 304.4 L139.8 302.0 L140.7 299.8 L141.6 297.5 L142.4 295.4 L143.3 293.6 L144.1 292.4 L145.0 291.7 L145.8 291.0 L146.8 290.1 L147.9 288.7 L149.2 287.1 L150.5 285.6 L151.6 284.6 L152.5 284.5 L153.4 284.9 L154.2 285.3 L155.1 285.3 L156.2 284.6 L157.3 283.6 L158.4 282.3 L159.3 281.1 L160.0 279.9 L160.4 278.6 L160.9 277.3 L161.4 276.2 L162.1 275.2 L162.8 274.2 L163.5 273.3 L164.2 272.7 L164.9 272.4 L165.5 272.4 L166.2 272.4 L167.0 272.0 L168.0 270.9 L169.1 269.3 L170.2 267.9 L171.2 267.1 L172.1 267.3 L173.0 268.1 L173.8 269.1 L174.7 269.9 L175.6 270.5 L176.5 271.1 L177.4 271.6 L178.2 272.0 L178.7 272.5 L179.1 273.2 L179.5 273.3 L180.2 272.5 L181.2 269.8 L182.4 265.9 L183.7 262.1 L184.9 259.9 L186.0 260.2 L187.0 262.0 L187.9 264.2 L188.8 265.8 L189.6 266.5 L190.2 267.0 L190.9 267.1 L191.8 266.8 L193.0 266.1 L194.4 265.0 L195.9 263.5 L197.3 261.5 L198.7 258.4 L200.2 254.4 L201.5 250.7 L202.7 248.6 L203.6 248.6 L204.3 250.0 L204.9 252.0 L205.7 253.9 L206.6 255.9 L207.5 258.2 L208.5 260.1 L209.6 260.8 L211.1 259.5 L212.8 256.8 L214.5 253.9 L215.6 251.9" stroke="#d4202b" stroke-width="1.8" fill="none" stroke-linejoin="round" stroke-linecap="round" clip-path="url(#cc)"/>
<path d="M40.8 353.6 L44.3 355.7 L47.1 357.8 L48.5 362.0 L49.9 362.7 L51.3 359.9 L52.7 359.2 L54.1 357.1 L55.1 357.1 L55.9 341.7 L57.6 342.4 L59.0 343.1 L59.7 355.0 L61.1 359.2 L62.5 359.2 L63.9 361.3 L66.0 362.7 L68.1 363.4 L68.5 340.3 L70.9 339.6 L72.3 338.9 L74.4 340.3 L76.5 342.4 L77.9 345.9 L79.3 347.3 L80.0 355.0 L81.4 356.4 L82.8 357.8 L84.2 361.3 L85.6 355.0 L87.0 353.6 L88.3 360.6 L90.0 363.4 L91.8 359.2 L93.9 351.5 L96.2 354.5 L98.5 361.3 L100.6 362.0 L102.0 346.6 L104.1 347.3 L104.8 358.5 L106.9 359.9 L108.3 361.3 L109.0 346.6 L111.1 347.3 L112.5 350.1 L115.3 352.9 L118.1 355.7 L120.9 358.5 L123.0 362.7 L125.1 367.6 L126.0 350.1 L127.9 348.7 L128.6 343.1 L130.7 344.5 L132.8 346.6 L133.5 351.5 L135.6 356.4 L137.7 352.9 L139.8 354.3 L142.6 356.4 L145.3 358.5 L147.4 359.2 L150.2 362.7 L151.6 362.4 L152.2 343.8 L153.8 345.2 L154.9 355.0 L157.0 357.8 L157.7 363.4 L159.1 355.7 L160.5 350.8 L163.3 352.9 L166.1 355.0 L168.2 350.1 L170.3 350.1 L171.7 347.3 L173.1 348.7 L174.5 353.6 L178.0 355.0 L183.6 357.1 L184.7 341.7 L186.4 342.4 L187.1 369.7 L189.2 370.3 L189.9 353.6 L192.0 352.9 L192.7 346.6 L196.2 348.0 L199.7 349.4 L202.5 348.4 L203.9 343.4 L205.7 344.5 L206.2 351.5 L207.3 364.1 L210.4 365.5 L213.2 366.2 L213.9 347.3 L215.7 347.3" stroke="#111111" stroke-width="1.6" fill="none" stroke-linejoin="round" stroke-linecap="round" clip-path="url(#cc)"/>
<path d="M41.00 227.00H233.20" stroke="#4a4a4a" stroke-width="1.9" fill="none"/>
<path d="M41.00 226.00V375.90M40.00 375.00H234.20M233.20 226.00V375.90" stroke="#8a8a8a" stroke-width="1.9" fill="none"/>
<g font-family="DejaVu Sans, sans-serif" font-size="10" fill="#222222"><text x="34.40" y="378.65" text-anchor="end">–2</text><text x="34.40" y="357.51" text-anchor="end">0</text><text x="34.40" y="336.36" text-anchor="end">2</text><text x="34.40" y="315.22" text-anchor="end">4</text><text x="34.40" y="294.08" text-anchor="end">6</text><text x="34.40" y="272.94" text-anchor="end">8</text><text x="34.40" y="251.79" text-anchor="end">10</text><text x="34.40" y="230.65" text-anchor="end">12</text><text x="237.20" y="378.65">–</text><text x="243.90" y="378.65">10</text><text x="237.20" y="349.05">–</text><text x="243.90" y="349.05">6</text><text x="237.20" y="319.45">–</text><text x="243.90" y="319.45">2</text><text x="240.90" y="289.85">2</text><text x="240.90" y="260.25">6</text><text x="240.90" y="230.65">10</text><text x="41.00" y="390.30" text-anchor="middle">0</text><text x="73.03" y="390.30" text-anchor="middle">3</text><text x="105.07" y="390.30" text-anchor="middle">6</text><text x="137.10" y="390.30" text-anchor="middle">9</text><text x="169.13" y="390.30" text-anchor="middle">12</text><text x="201.17" y="390.30" text-anchor="middle">15</text><text x="233.20" y="390.30" text-anchor="middle">18</text></g>
<path d="M45.5 233.20H69.1" stroke="#d4202b" stroke-width="1.6"/>
<text x="71.8" y="236.80" font-family="Liberation Serif, serif" font-size="12" fill="#222222">Displacement</text>
<path d="M45.5 247.20H69.1" stroke="#111111" stroke-width="1.6"/>
<text x="71.8" y="250.30" font-family="Liberation Serif, serif" font-size="12" fill="#222222">Longitudinal vibration</text>
<path d="M45.5 260.50H69.1" stroke="#5e2c98" stroke-width="1.6"/>
<text x="71.8" y="263.50" font-family="Liberation Serif, serif" font-size="12" fill="#222222">Penetration rate</text>
<text x="155.8" y="239.3" font-family="Liberation Serif, serif" font-size="12" fill="#222222">R<tspan dy="-4.6" font-size="8.6">2</tspan><tspan dy="4.6"> = 0.9716</tspan></text>
<text transform="translate(15.60 348.70) rotate(-90)" y="0" fill="#222222"><tspan x="0.00" font-family="Liberation Serif, serif" font-size="11.1">Displacement</tspan><tspan x="59.01" font-family="Noto Serif CJK SC, serif" font-size="11.1" stroke="none">（</tspan><tspan x="71.20" font-family="Liberation Serif, serif" font-size="11.1">cm</tspan><tspan x="83.40" font-family="Noto Serif CJK SC, serif" font-size="11.1" stroke="none">）</tspan></text>
<text transform="translate(269.00 362.80) rotate(-90)" y="0" fill="#222222"><tspan x="0.00" font-family="Liberation Sans, sans-serif" font-size="11.0">Penetration rate</tspan><tspan x="72.79" font-family="Noto Sans CJK SC, sans-serif" font-size="11.0" stroke="none">（</tspan><tspan x="86.40" font-family="Liberation Sans, sans-serif" font-size="11.0">cm/s</tspan><tspan x="110.13" font-family="Noto Sans CJK SC, sans-serif" font-size="11.0" stroke="none">）</tspan></text>
<text y="406.2" fill="#222222"><tspan x="117.8" font-family="Liberation Serif, serif" font-size="10.4" letter-spacing="0.5">time</tspan><tspan x="133.57" dy="0.8" font-family="Noto Serif CJK SC, serif" font-size="11" stroke="none">（</tspan><tspan x="145.50" dy="-0.8" font-family="Liberation Serif, serif" font-size="12.5">s</tspan><tspan x="152.51" dy="0.8" font-family="Noto Serif CJK SC, serif" font-size="11" stroke="none">）</tspan></text>
<text x="137.2" y="421.5" text-anchor="middle" font-family="Liberation Serif, serif" font-weight="bold" font-size="10.5" letter-spacing="0.55" fill="#222222">(c)</text>
<path d="M316.50 374.80V377.80M332.25 374.80V377.80M348.00 374.80V377.80M363.75 374.80V377.80M379.50 374.80V377.80M395.25 374.80V377.80M411.00 374.80V377.80M426.75 374.80V377.80M442.50 374.80V377.80M458.25 374.80V377.80M474.00 374.80V377.80M489.75 374.80V377.80M505.50 374.80V377.80M316.50 374.80H313.50M316.50 362.61H313.50M316.50 350.42H313.50M316.50 338.23H313.50M316.50 326.03H313.50M316.50 313.84H313.50M316.50 301.65H313.50M316.50 289.46H313.50M316.50 277.27H313.50M316.50 265.07H313.50M316.50 252.88H313.50M316.50 240.69H313.50M316.50 228.50H313.50M505.50 374.80H508.50M505.50 364.35H508.50M505.50 353.90H508.50M505.50 343.45H508.50M505.50 333.00H508.50M505.50 322.55H508.50M505.50 312.10H508.50M505.50 301.65H508.50M505.50 291.20H508.50M505.50 280.75H508.50M505.50 270.30H508.50M505.50 259.85H508.50M505.50 249.40H508.50M505.50 238.95H508.50M505.50 228.50H508.50M316.50 374.80V378.80M348.00 374.80V378.80M379.50 374.80V378.80M411.00 374.80V378.80M442.50 374.80V378.80M474.00 374.80V378.80M505.50 374.80V378.80M316.50 374.80H312.50M316.50 350.42H312.50M316.50 326.03H312.50M316.50 301.65H312.50M316.50 277.27H312.50M316.50 252.88H312.50M316.50 228.50H312.50M505.50 374.80H509.50M505.50 353.90H509.50M505.50 333.00H509.50M505.50 312.10H509.50M505.50 291.20H509.50M505.50 270.30H509.50M505.50 249.40H509.50M505.50 228.50H509.50" stroke="#8a8a8a" stroke-width="1.3" fill="none"/>
<clipPath id="cd"><rect x="316.5" y="228.5" width="189.0" height="146.3"/></clipPath>
<path d="M317.1 299.0 L319.2 300.4 L321.3 312.9 L324.1 329.7 L325.9 329.0 L328.3 315.7 L331.5 299.7 L333.9 302.5 L336.6 322.7 L339.9 341.6 L341.8 342.3 L344.3 322.7 L346.8 301.8 L349.2 293.4 L351.6 304.6 L354.4 324.1 L356.9 332.5 L359.7 324.1 L362.2 308.7 L364.5 305.9 L367.0 319.9 L369.1 332.5 L371.9 338.8 L374.0 325.5 L376.8 305.9 L379.6 295.5 L381.6 304.6 L384.0 324.1 L387.2 343.0 L389.6 336.7 L392.1 318.5 L394.9 301.8 L397.0 303.2 L399.8 317.1 L402.6 331.8 L405.0 329.7 L407.3 313.0 L409.9 300.8 L412.0 303.7 L414.8 320.1 L417.3 333.4 L419.7 328.5 L422.5 305.0 L425.5 287.5 L427.3 288.5 L429.4 301.3 L431.5 320.1 L434.7 337.6 L437.1 329.9 L439.9 315.3 L442.4 308.0 L444.8 313.0 L446.9 325.0 L449.7 336.9 L452.3 327.4 L455.3 306.2 L457.6 303.2 L459.8 315.3 L462.9 339.5 L465.2 346.0 L467.4 335.0 L470.5 312.3 L472.7 301.7 L475.5 307.7 L478.0 327.4 L480.3 339.5 L482.6 335.0 L485.6 318.3 L487.9 304.7 L490.6 307.7 L493.2 322.9 L495.5 330.5 L498.2 323.6 L500.8 304.7 L503.0 293.3 L505.3 300.2" stroke="#5e2c98" stroke-width="1.8" fill="none" stroke-linejoin="round" stroke-linecap="round" clip-path="url(#cd)"/>
<path d="M316.3 367.3 L316.7 366.7 L317.3 365.8 L318.0 364.9 L318.7 364.0 L319.4 363.3 L320.1 362.6 L320.8 361.9 L321.6 361.3 L322.4 360.7 L323.4 360.2 L324.3 359.8 L325.1 359.4 L325.9 359.2 L326.6 359.1 L327.3 358.9 L328.0 358.6 L328.7 358.0 L329.4 357.3 L330.2 356.5 L330.9 355.6 L331.6 354.6 L332.3 353.6 L333.0 352.6 L333.8 351.6 L334.6 350.7 L335.5 349.8 L336.4 349.1 L337.3 348.6 L338.2 348.4 L339.1 348.5 L340.0 348.7 L340.8 348.9 L341.6 349.2 L342.3 349.5 L343.0 349.8 L343.7 349.8 L344.4 349.4 L345.1 348.7 L345.8 347.9 L346.6 346.9 L347.4 345.7 L348.3 344.4 L349.2 343.0 L350.1 341.7 L351.1 340.5 L352.1 339.4 L353.2 338.4 L354.2 337.6 L355.2 337.1 L356.3 336.9 L357.3 336.8 L358.3 336.4 L359.2 335.8 L360.1 335.1 L360.9 334.3 L361.8 333.5 L362.8 332.6 L363.9 331.7 L365.0 330.8 L365.9 330.0 L366.6 329.4 L367.1 328.9 L367.6 328.5 L368.4 328.3 L369.5 328.4 L370.8 328.7 L372.1 329.0 L373.3 329.0 L374.3 328.6 L375.1 328.0 L375.9 327.2 L376.8 326.2 L377.8 324.9 L378.8 323.4 L379.9 321.9 L380.9 320.6 L381.8 319.5 L382.6 318.6 L383.4 317.8 L384.4 317.4 L385.5 317.4 L386.8 317.9 L388.1 318.3 L389.3 318.5 L390.4 318.2 L391.4 317.8 L392.5 317.1 L393.5 316.4 L394.6 315.5 L395.7 314.3 L396.7 313.2 L397.7 312.2 L398.5 311.4 L399.1 310.6 L399.7 309.9 L400.5 309.4 L401.4 309.1 L402.5 308.9 L403.6 308.8 L404.7 308.3 L405.8 307.5 L406.9 306.5 L408.1 305.3 L409.2 304.1 L410.3 302.7 L411.3 301.2 L412.4 299.7 L413.4 298.5 L414.4 297.7 L415.5 297.2 L416.6 296.8 L417.6 296.4 L418.7 296.0 L419.7 295.6 L420.8 295.1 L421.8 294.3 L422.9 293.0 L423.9 291.4 L425.0 289.6 L426.0 288.0 L427.0 286.5 L428.1 285.0 L429.1 283.7 L430.1 282.5 L431.0 281.5 L431.8 280.7 L432.7 280.1 L433.6 279.7 L434.6 279.7 L435.7 280.0 L436.7 280.4 L437.8 280.4 L438.9 280.0 L439.9 279.3 L440.9 278.5 L442.0 277.6 L443.1 276.6 L444.1 275.4 L445.2 274.2 L446.2 273.4 L447.1 273.0 L447.8 273.0 L448.7 273.0 L449.7 272.7 L451.0 272.0 L452.6 271.1 L454.2 270.1 L455.8 269.1 L457.3 267.8 L458.8 266.4 L460.2 265.1 L461.7 264.5 L463.2 264.9 L464.7 265.9 L466.1 267.0 L467.5 267.5 L468.7 267.2 L469.8 266.6 L470.9 265.6 L472.1 264.5 L473.5 263.1 L475.0 261.3 L476.5 259.6 L478.0 258.6 L479.5 258.6 L480.9 259.2 L482.4 259.8 L483.8 259.8 L485.3 258.8 L486.8 257.2 L488.2 255.5 L489.6 254.0 L490.9 252.9 L492.0 252.0 L493.2 251.2 L494.3 250.5 L495.5 250.1 L496.7 249.9 L497.9 249.7 L499.0 249.3 L499.9 248.6 L500.8 247.8 L501.6 246.9 L502.4 245.8 L503.3 244.5 L504.2 242.9 L504.9 241.5 L505.5 240.5" stroke="#d4202b" stroke-width="1.8" fill="none" stroke-linejoin="round" stroke-linecap="round" clip-path="url(#cd)"/>
<path d="M316.3 360.5 L328.6 368.5 L331.2 357.0 L349.0 367.9 L351.9 357.0 L364.1 364.4 L367.0 357.7 L379.5 365.5 L382.1 359.1 L394.2 366.7 L397.4 359.1 L407.5 365.2 L410.1 363.5 L412.6 359.7 L424.7 367.7 L427.9 355.5 L440.2 363.6 L442.9 358.3 L454.6 367.2 L457.3 361.6 L459.2 362.9 L462.5 360.3 L469.7 364.2 L473.0 360.9 L476.9 363.3 L480.2 362.5 L485.4 365.5 L488.0 363.3 L492.6 366.2 L497.8 363.6 L503.1 357.0 L505.7 358.3" stroke="#111111" stroke-width="1.6" fill="none" stroke-linejoin="round" stroke-linecap="round" clip-path="url(#cd)"/>
<path d="M316.50 228.50H505.50" stroke="#4a4a4a" stroke-width="1.9" fill="none"/>
<path d="M316.50 227.50V375.70M315.50 374.80H506.50M505.50 227.50V375.70" stroke="#8a8a8a" stroke-width="1.9" fill="none"/>
<g font-family="DejaVu Sans, sans-serif" font-size="10" fill="#222222"><text x="308.00" y="378.45" text-anchor="end">–1</text><text x="308.00" y="354.07" text-anchor="end">1</text><text x="308.00" y="329.68" text-anchor="end">3</text><text x="308.00" y="305.30" text-anchor="end">5</text><text x="308.00" y="280.92" text-anchor="end">7</text><text x="308.00" y="256.53" text-anchor="end">9</text><text x="308.00" y="232.15" text-anchor="end">11</text><text x="513.90" y="378.45">–</text><text x="518.10" y="378.45">10</text><text x="513.90" y="357.55">–</text><text x="518.10" y="357.55">5</text><text x="516.40" y="336.65">0</text><text x="516.40" y="315.75">5</text><text x="516.40" y="294.85">10</text><text x="516.40" y="273.95">15</text><text x="516.40" y="253.05">20</text><text x="516.40" y="232.15">25</text><text x="316.50" y="390.00" text-anchor="middle">0</text><text x="348.00" y="390.00" text-anchor="middle">0.5</text><text x="379.50" y="390.00" text-anchor="middle">1</text><text x="411.00" y="390.00" text-anchor="middle">1.5</text><text x="442.50" y="390.00" text-anchor="middle">2</text><text x="474.00" y="390.00" text-anchor="middle">2.5</text><text x="505.50" y="390.00" text-anchor="middle">3</text></g>
<path d="M323.7 233.20H347.7" stroke="#d4202b" stroke-width="1.6"/>
<text x="350.5" y="236.50" font-family="Liberation Serif, serif" font-size="12" fill="#222222">Displacement</text>
<path d="M323.7 247.20H347.7" stroke="#111111" stroke-width="1.6"/>
<text x="350.5" y="250.00" font-family="Liberation Serif, serif" font-size="12" fill="#222222">Longitudinal vibration</text>
<path d="M323.7 260.50H347.7" stroke="#5e2c98" stroke-width="1.6"/>
<text x="350.5" y="263.60" font-family="Liberation Serif, serif" font-size="12" fill="#222222">Penetration rate</text>
<text x="434.4" y="240.7" font-family="Liberation Serif, serif" font-size="12" fill="#222222">R<tspan dy="-4.6" font-size="8.6">2</tspan><tspan dy="4.6"> = 0.9961</tspan></text>
<text transform="translate(289.70 350.60) rotate(-90)" y="0" fill="#222222"><tspan x="0.00" font-family="Liberation Serif, serif" font-size="11.45">Displacement</tspan><tspan x="59.39" font-family="Noto Serif CJK SC, serif" font-size="11.45" stroke="none">（</tspan><tspan x="71.50" font-family="Liberation Serif, serif" font-size="11.45">cm</tspan><tspan x="83.71" font-family="Noto Serif CJK SC, serif" font-size="11.45" stroke="none">）</tspan></text>
<text transform="translate(546.00 354.60) rotate(-90)" y="0" fill="#222222"><tspan x="0.00" font-family="Liberation Serif, serif" font-size="11.55">Penetration rate</tspan><tspan x="68.12" font-family="Noto Serif CJK SC, serif" font-size="11.55" stroke="none">（</tspan><tspan x="81.00" font-family="Liberation Serif, serif" font-size="11.55">cm/s</tspan><tspan x="104.98" font-family="Noto Serif CJK SC, serif" font-size="11.55" stroke="none">）</tspan></text>
<text y="406.8" fill="#222222"><tspan x="391.9" font-family="Liberation Serif, serif" font-size="10.4" letter-spacing="0.5">time</tspan><tspan x="407.57" dy="0.8" font-family="Noto Serif CJK SC, serif" font-size="11" stroke="none">（</tspan><tspan x="419.60" dy="-0.8" font-family="Liberation Serif, serif" font-size="12.5">s</tspan><tspan x="426.31" dy="0.8" font-family="Noto Serif CJK SC, serif" font-size="11" stroke="none">）</tspan></text>
<text x="414.6" y="421.5" text-anchor="middle" font-family="Liberation Serif, serif" font-weight="bold" font-size="10.5" letter-spacing="0.9" fill="#222222">(d)</text>
</svg>
</body></html>
